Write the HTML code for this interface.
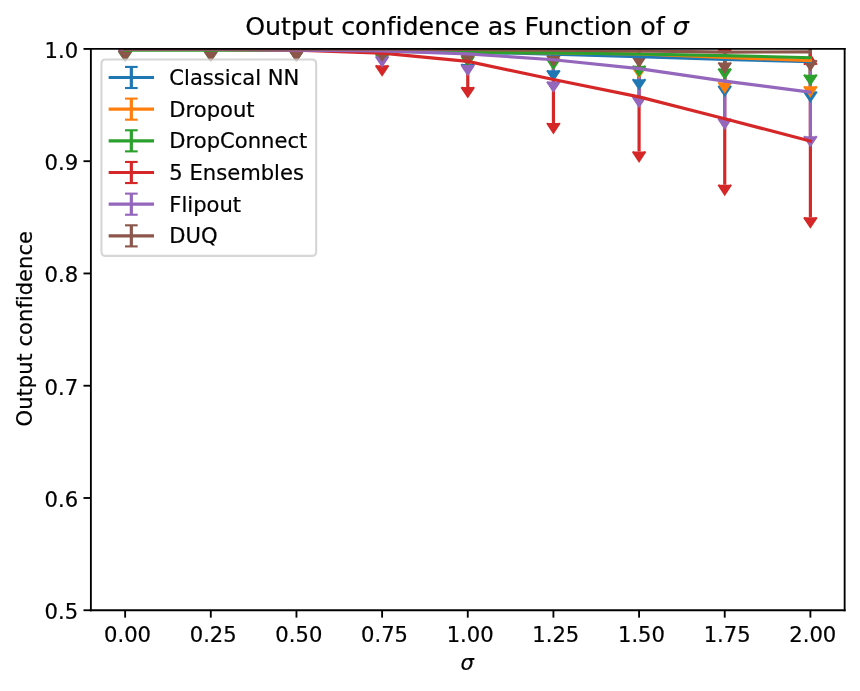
<!DOCTYPE html>
<html lang="en">
<head>
<meta charset="utf-8">
<title>Output confidence as Function of sigma</title>
<style>
html, body { margin: 0; padding: 0; background: #ffffff; }
body { width: 860px; height: 691px; overflow: hidden; font-family: "DejaVu Sans", "Liberation Sans", sans-serif; }
svg { display: block; }
svg text { stroke: #000000; stroke-width: 0.1px; stroke-linejoin: round; font-variant-ligatures: none; font-feature-settings: "liga" 0, "clig" 0; }
</style>
</head>
<body>
<svg width="860" height="691" viewBox="0 0 860 691">
<rect x="0" y="0" width="860" height="691" fill="#ffffff"/>
<g transform="translate(-1.529 1.85) scale(2.11069 2.10934)">

 <defs>
  <style type="text/css">*{stroke-linejoin: round; stroke-linecap: butt}</style>
 </defs>
 <g id="figure_1">
  <g id="patch_1">
   <path d="M 0 325.98825 L 408.10125 325.98825 L 408.10125 0 L 0 0 z" style="fill: #ffffff"/>
  </g>
  <g id="axes_1">
   <g id="patch_2">
    <path d="M 43.78125 288.432 L 400.90125 288.432 L 400.90125 22.32 L 43.78125 22.32 z" style="fill: #ffffff"/>
   </g>
   <g id="matplotlib.axis_1">
    <g id="xtick_1">
     <g id="line2d_1">
      <g>
       <path d="M 0 0 L 0 3.5" transform="translate(60.013977 288.432)" style="stroke: #000000; stroke-width: 0.88"/>
      </g>
     </g>
     <g id="text_1">
      <text style="font-size: 10px; font-family: 'DejaVu Sans', 'Liberation Sans', sans-serif; text-anchor: middle" x="61.1510" y="303.6942">0.00</text>
     </g>
    </g>
    <g id="xtick_2">
     <g id="line2d_2">
      <g>
       <path d="M 0 0 L 0 3.5" transform="translate(100.595795 288.432)" style="stroke: #000000; stroke-width: 0.88"/>
      </g>
     </g>
     <g id="text_2">
      <text style="font-size: 10px; font-family: 'DejaVu Sans', 'Liberation Sans', sans-serif; text-anchor: middle" x="101.7329" y="303.6942">0.25</text>
     </g>
    </g>
    <g id="xtick_3">
     <g id="line2d_3">
      <g>
       <path d="M 0 0 L 0 3.5" transform="translate(141.177614 288.432)" style="stroke: #000000; stroke-width: 0.88"/>
      </g>
     </g>
     <g id="text_3">
      <text style="font-size: 10px; font-family: 'DejaVu Sans', 'Liberation Sans', sans-serif; text-anchor: middle" x="142.3147" y="303.6942">0.50</text>
     </g>
    </g>
    <g id="xtick_4">
     <g id="line2d_4">
      <g>
       <path d="M 0 0 L 0 3.5" transform="translate(181.759432 288.432)" style="stroke: #000000; stroke-width: 0.88"/>
      </g>
     </g>
     <g id="text_4">
      <text style="font-size: 10px; font-family: 'DejaVu Sans', 'Liberation Sans', sans-serif; text-anchor: middle" x="182.8965" y="303.6942">0.75</text>
     </g>
    </g>
    <g id="xtick_5">
     <g id="line2d_5">
      <g>
       <path d="M 0 0 L 0 3.5" transform="translate(222.34125 288.432)" style="stroke: #000000; stroke-width: 0.88"/>
      </g>
     </g>
     <g id="text_5">
      <text style="font-size: 10px; font-family: 'DejaVu Sans', 'Liberation Sans', sans-serif; text-anchor: middle" x="223.4783" y="303.6942">1.00</text>
     </g>
    </g>
    <g id="xtick_6">
     <g id="line2d_6">
      <g>
       <path d="M 0 0 L 0 3.5" transform="translate(262.923068 288.432)" style="stroke: #000000; stroke-width: 0.88"/>
      </g>
     </g>
     <g id="text_6">
      <text style="font-size: 10px; font-family: 'DejaVu Sans', 'Liberation Sans', sans-serif; text-anchor: middle" x="264.0601" y="303.6942">1.25</text>
     </g>
    </g>
    <g id="xtick_7">
     <g id="line2d_7">
      <g>
       <path d="M 0 0 L 0 3.5" transform="translate(303.504886 288.432)" style="stroke: #000000; stroke-width: 0.88"/>
      </g>
     </g>
     <g id="text_7">
      <text style="font-size: 10px; font-family: 'DejaVu Sans', 'Liberation Sans', sans-serif; text-anchor: middle" x="304.6420" y="303.6942">1.50</text>
     </g>
    </g>
    <g id="xtick_8">
     <g id="line2d_8">
      <g>
       <path d="M 0 0 L 0 3.5" transform="translate(344.086705 288.432)" style="stroke: #000000; stroke-width: 0.88"/>
      </g>
     </g>
     <g id="text_8">
      <text style="font-size: 10px; font-family: 'DejaVu Sans', 'Liberation Sans', sans-serif; text-anchor: middle" x="345.2238" y="303.6942">1.75</text>
     </g>
    </g>
    <g id="xtick_9">
     <g id="line2d_9">
      <g>
       <path d="M 0 0 L 0 3.5" transform="translate(384.668523 288.432)" style="stroke: #000000; stroke-width: 0.88"/>
      </g>
     </g>
     <g id="text_9">
      <text style="font-size: 10px; font-family: 'DejaVu Sans', 'Liberation Sans', sans-serif; text-anchor: middle" x="385.8056" y="303.6942">2.00</text>
     </g>
    </g>
    <g id="text_10">
     <g transform="translate(218.8570 317.5145)">
      <text>
       <tspan x="0" y="-0.53125" style="font-style: oblique; font-size: 10px; font-family: 'DejaVu Sans', 'Liberation Sans', sans-serif">σ</tspan>
      </text>
     </g>
    </g>
   </g>
   <g id="matplotlib.axis_2">
    <g id="ytick_1">
     <g id="line2d_10">
      <g>
       <path d="M 0 0 L -3.5 0" transform="translate(43.78125 288.432)" style="stroke: #000000; stroke-width: 0.88"/>
      </g>
     </g>
     <g id="text_11">
      <text style="font-size: 10px; font-family: 'DejaVu Sans', 'Liberation Sans', sans-serif; text-anchor: end" x="37.7288" y="292.6105">0.5</text>
     </g>
    </g>
    <g id="ytick_2">
     <g id="line2d_11">
      <g>
       <path d="M 0 0 L -3.5 0" transform="translate(43.78125 235.2096)" style="stroke: #000000; stroke-width: 0.88"/>
      </g>
     </g>
     <g id="text_12">
      <text style="font-size: 10px; font-family: 'DejaVu Sans', 'Liberation Sans', sans-serif; text-anchor: end" x="37.7288" y="239.3881">0.6</text>
     </g>
    </g>
    <g id="ytick_3">
     <g id="line2d_12">
      <g>
       <path d="M 0 0 L -3.5 0" transform="translate(43.78125 181.9872)" style="stroke: #000000; stroke-width: 0.88"/>
      </g>
     </g>
     <g id="text_13">
      <text style="font-size: 10px; font-family: 'DejaVu Sans', 'Liberation Sans', sans-serif; text-anchor: end" x="37.7288" y="186.1657">0.7</text>
     </g>
    </g>
    <g id="ytick_4">
     <g id="line2d_13">
      <g>
       <path d="M 0 0 L -3.5 0" transform="translate(43.78125 128.7648)" style="stroke: #000000; stroke-width: 0.88"/>
      </g>
     </g>
     <g id="text_14">
      <text style="font-size: 10px; font-family: 'DejaVu Sans', 'Liberation Sans', sans-serif; text-anchor: end" x="37.7288" y="132.9433">0.8</text>
     </g>
    </g>
    <g id="ytick_5">
     <g id="line2d_14">
      <g>
       <path d="M 0 0 L -3.5 0" transform="translate(43.78125 75.5424)" style="stroke: #000000; stroke-width: 0.88"/>
      </g>
     </g>
     <g id="text_15">
      <text style="font-size: 10px; font-family: 'DejaVu Sans', 'Liberation Sans', sans-serif; text-anchor: end" x="37.7288" y="79.7209">0.9</text>
     </g>
    </g>
    <g id="ytick_6">
     <g id="line2d_15">
      <g>
       <path d="M 0 0 L -3.5 0" transform="translate(43.78125 22.32)" style="stroke: #000000; stroke-width: 0.88"/>
      </g>
     </g>
     <g id="text_16">
      <text style="font-size: 10px; font-family: 'DejaVu Sans', 'Liberation Sans', sans-serif; text-anchor: end" x="37.7288" y="26.4985">1.0</text>
     </g>
    </g>
    <g id="text_17">
     <text style="font-size: 10px; font-family: 'DejaVu Sans', 'Liberation Sans', sans-serif; text-anchor: middle" x="15.7460" y="154.9730" transform="rotate(-90 15.7460 154.9730)">Output confidence</text>
    </g>
   </g>
   <g id="LineCollection_1">
    <path d="M 60.013977 22.852224 L 60.013977 22.213555" clip-path="url(#pebf8cb1cc1)" style="fill: none; stroke: #1f77b4; stroke-width: 1.5"/>
    <path d="M 100.595795 22.852224 L 100.595795 22.32" clip-path="url(#pebf8cb1cc1)" style="fill: none; stroke: #1f77b4; stroke-width: 1.5"/>
    <path d="M 141.177614 22.958669 L 141.177614 22.426445" clip-path="url(#pebf8cb1cc1)" style="fill: none; stroke: #1f77b4; stroke-width: 1.5"/>
    <path d="M 181.759432 23.916672 L 181.759432 22.32" clip-path="url(#pebf8cb1cc1)" style="fill: none; stroke: #1f77b4; stroke-width: 1.5"/>
    <path d="M 222.34125 29.451802 L 222.34125 18.168653" clip-path="url(#pebf8cb1cc1)" style="fill: none; stroke: #1f77b4; stroke-width: 1.5"/>
    <path d="M 262.923068 32.485478 L 262.923068 17.050982" clip-path="url(#pebf8cb1cc1)" style="fill: none; stroke: #1f77b4; stroke-width: 1.5"/>
    <path d="M 303.504886 36.636826 L 303.504886 15.347866" clip-path="url(#pebf8cb1cc1)" style="fill: none; stroke: #1f77b4; stroke-width: 1.5"/>
    <path d="M 344.086705 39.83017 L 344.086705 14.709197" clip-path="url(#pebf8cb1cc1)" style="fill: none; stroke: #1f77b4; stroke-width: 1.5"/>
    <path d="M 384.668523 42.544512 L 384.668523 14.12375" clip-path="url(#pebf8cb1cc1)" style="fill: none; stroke: #1f77b4; stroke-width: 1.5"/>
   </g>
   <g id="LineCollection_2">
    <path d="M 60.013977 22.852224 L 60.013977 22.213555" clip-path="url(#pebf8cb1cc1)" style="fill: none; stroke: #ff7f0e; stroke-width: 1.5"/>
    <path d="M 100.595795 22.852224 L 100.595795 22.32" clip-path="url(#pebf8cb1cc1)" style="fill: none; stroke: #ff7f0e; stroke-width: 1.5"/>
    <path d="M 141.177614 22.958669 L 141.177614 22.426445" clip-path="url(#pebf8cb1cc1)" style="fill: none; stroke: #ff7f0e; stroke-width: 1.5"/>
    <path d="M 181.759432 23.65056 L 181.759432 22.479667" clip-path="url(#pebf8cb1cc1)" style="fill: none; stroke: #ff7f0e; stroke-width: 1.5"/>
    <path d="M 222.34125 25.247232 L 222.34125 22.160333" clip-path="url(#pebf8cb1cc1)" style="fill: none; stroke: #ff7f0e; stroke-width: 1.5"/>
    <path d="M 262.923068 26.790682 L 262.923068 21.574886" clip-path="url(#pebf8cb1cc1)" style="fill: none; stroke: #ff7f0e; stroke-width: 1.5"/>
    <path d="M 303.504886 31.048474 L 303.504886 18.381542" clip-path="url(#pebf8cb1cc1)" style="fill: none; stroke: #ff7f0e; stroke-width: 1.5"/>
    <path d="M 344.086705 38.127053 L 344.086705 14.496307" clip-path="url(#pebf8cb1cc1)" style="fill: none; stroke: #ff7f0e; stroke-width: 1.5"/>
    <path d="M 384.668523 40.043059 L 384.668523 15.6672" clip-path="url(#pebf8cb1cc1)" style="fill: none; stroke: #ff7f0e; stroke-width: 1.5"/>
   </g>
   <g id="LineCollection_3">
    <path d="M 60.013977 23.384448 L 60.013977 22.32" clip-path="url(#pebf8cb1cc1)" style="fill: none; stroke: #2ca02c; stroke-width: 1.5"/>
    <path d="M 100.595795 23.384448 L 100.595795 22.32" clip-path="url(#pebf8cb1cc1)" style="fill: none; stroke: #2ca02c; stroke-width: 1.5"/>
    <path d="M 141.177614 23.384448 L 141.177614 22.53289" clip-path="url(#pebf8cb1cc1)" style="fill: none; stroke: #2ca02c; stroke-width: 1.5"/>
    <path d="M 181.759432 24.821453 L 181.759432 21.947443" clip-path="url(#pebf8cb1cc1)" style="fill: none; stroke: #2ca02c; stroke-width: 1.5"/>
    <path d="M 222.34125 25.779456 L 222.34125 22.373222" clip-path="url(#pebf8cb1cc1)" style="fill: none; stroke: #2ca02c; stroke-width: 1.5"/>
    <path d="M 262.923068 27.110016 L 262.923068 21.255552" clip-path="url(#pebf8cb1cc1)" style="fill: none; stroke: #2ca02c; stroke-width: 1.5"/>
    <path d="M 303.504886 30.30336 L 303.504886 19.126656" clip-path="url(#pebf8cb1cc1)" style="fill: none; stroke: #2ca02c; stroke-width: 1.5"/>
    <path d="M 344.086705 31.63392 L 344.086705 19.286323" clip-path="url(#pebf8cb1cc1)" style="fill: none; stroke: #2ca02c; stroke-width: 1.5"/>
    <path d="M 384.668523 34.50793 L 384.668523 18.434765" clip-path="url(#pebf8cb1cc1)" style="fill: none; stroke: #2ca02c; stroke-width: 1.5"/>
   </g>
   <g id="LineCollection_4">
    <path d="M 60.013977 22.586112 L 60.013977 22.266778" clip-path="url(#pebf8cb1cc1)" style="fill: none; stroke: #d62728; stroke-width: 1.5"/>
    <path d="M 100.595795 22.745779 L 100.595795 22.32" clip-path="url(#pebf8cb1cc1)" style="fill: none; stroke: #d62728; stroke-width: 1.5"/>
    <path d="M 141.177614 23.118336 L 141.177614 22.586112" clip-path="url(#pebf8cb1cc1)" style="fill: none; stroke: #d62728; stroke-width: 1.5"/>
    <path d="M 181.759432 30.09047 L 181.759432 18.594432" clip-path="url(#pebf8cb1cc1)" style="fill: none; stroke: #d62728; stroke-width: 1.5"/>
    <path d="M 222.34125 40.415616 L 222.34125 16.039757" clip-path="url(#pebf8cb1cc1)" style="fill: none; stroke: #d62728; stroke-width: 1.5"/>
    <path d="M 262.923068 57.446784 L 262.923068 16.146202" clip-path="url(#pebf8cb1cc1)" style="fill: none; stroke: #d62728; stroke-width: 1.5"/>
    <path d="M 303.504886 70.965274 L 303.504886 19.126656" clip-path="url(#pebf8cb1cc1)" style="fill: none; stroke: #d62728; stroke-width: 1.5"/>
    <path d="M 344.086705 86.719104 L 344.086705 23.278003" clip-path="url(#pebf8cb1cc1)" style="fill: none; stroke: #d62728; stroke-width: 1.5"/>
    <path d="M 384.668523 102.1536 L 384.668523 29.824358" clip-path="url(#pebf8cb1cc1)" style="fill: none; stroke: #d62728; stroke-width: 1.5"/>
   </g>
   <g id="LineCollection_5">
    <path d="M 60.013977 22.745779 L 60.013977 22.213555" clip-path="url(#pebf8cb1cc1)" style="fill: none; stroke: #9467bd; stroke-width: 1.5"/>
    <path d="M 100.595795 22.852224 L 100.595795 22.32" clip-path="url(#pebf8cb1cc1)" style="fill: none; stroke: #9467bd; stroke-width: 1.5"/>
    <path d="M 141.177614 23.118336 L 141.177614 22.586112" clip-path="url(#pebf8cb1cc1)" style="fill: none; stroke: #9467bd; stroke-width: 1.5"/>
    <path d="M 181.759432 25.885901 L 181.759432 20.670106" clip-path="url(#pebf8cb1cc1)" style="fill: none; stroke: #9467bd; stroke-width: 1.5"/>
    <path d="M 222.34125 29.930803 L 222.34125 19.392768" clip-path="url(#pebf8cb1cc1)" style="fill: none; stroke: #9467bd; stroke-width: 1.5"/>
    <path d="M 262.923068 37.807718 L 262.923068 17.050982" clip-path="url(#pebf8cb1cc1)" style="fill: none; stroke: #9467bd; stroke-width: 1.5"/>
    <path d="M 303.504886 45.099187 L 303.504886 18.168653" clip-path="url(#pebf8cb1cc1)" style="fill: none; stroke: #9467bd; stroke-width: 1.5"/>
    <path d="M 344.086705 55.37111 L 344.086705 19.818547" clip-path="url(#pebf8cb1cc1)" style="fill: none; stroke: #9467bd; stroke-width: 1.5"/>
    <path d="M 384.668523 63.673805 L 384.668523 21.947443" clip-path="url(#pebf8cb1cc1)" style="fill: none; stroke: #9467bd; stroke-width: 1.5"/>
   </g>
   <g id="LineCollection_6">
    <path d="M 60.013977 23.118336 L 60.013977 21.734554" clip-path="url(#pebf8cb1cc1)" style="fill: none; stroke: #8c564b; stroke-width: 1.5"/>
    <path d="M 100.595795 23.278003 L 100.595795 21.574886" clip-path="url(#pebf8cb1cc1)" style="fill: none; stroke: #8c564b; stroke-width: 1.5"/>
    <path d="M 141.177614 23.278003 L 141.177614 21.574886" clip-path="url(#pebf8cb1cc1)" style="fill: none; stroke: #8c564b; stroke-width: 1.5"/>
    <path d="M 181.759432 23.118336 L 181.759432 21.840998" clip-path="url(#pebf8cb1cc1)" style="fill: none; stroke: #8c564b; stroke-width: 1.5"/>
    <path d="M 222.34125 24.715008 L 222.34125 20.457216" clip-path="url(#pebf8cb1cc1)" style="fill: none; stroke: #8c564b; stroke-width: 1.5"/>
    <path d="M 262.923068 25.353677 L 262.923068 20.563661" clip-path="url(#pebf8cb1cc1)" style="fill: none; stroke: #8c564b; stroke-width: 1.5"/>
    <path d="M 303.504886 26.045568 L 303.504886 20.403994" clip-path="url(#pebf8cb1cc1)" style="fill: none; stroke: #8c564b; stroke-width: 1.5"/>
    <path d="M 344.086705 28.75991 L 344.086705 18.966989" clip-path="url(#pebf8cb1cc1)" style="fill: none; stroke: #8c564b; stroke-width: 1.5"/>
    <path d="M 384.668523 27.695462 L 384.668523 19.712102" clip-path="url(#pebf8cb1cc1)" style="fill: none; stroke: #8c564b; stroke-width: 1.5"/>
   </g>
   <g id="line2d_16">
    <g clip-path="url(#pebf8cb1cc1)">
     <path d="M 3 0 L 0 -4.5 L -3 -0" transform="translate(60.013977 22.213555)" style="fill: #1f77b4; stroke: #1f77b4; stroke-linejoin: miter"/>
     <path d="M 3 0 L 0 -4.5 L -3 -0" transform="translate(100.595795 22.32)" style="fill: #1f77b4; stroke: #1f77b4; stroke-linejoin: miter"/>
     <path d="M 3 0 L 0 -4.5 L -3 -0" transform="translate(141.177614 22.426445)" style="fill: #1f77b4; stroke: #1f77b4; stroke-linejoin: miter"/>
     <path d="M 3 0 L 0 -4.5 L -3 -0" transform="translate(181.759432 22.32)" style="fill: #1f77b4; stroke: #1f77b4; stroke-linejoin: miter"/>
     <path d="M 3 0 L 0 -4.5 L -3 -0" transform="translate(222.34125 18.168653)" style="fill: #1f77b4; stroke: #1f77b4; stroke-linejoin: miter"/>
     <path d="M 3 0 L 0 -4.5 L -3 -0" transform="translate(262.923068 17.050982)" style="fill: #1f77b4; stroke: #1f77b4; stroke-linejoin: miter"/>
     <path d="M 3 0 L 0 -4.5 L -3 -0" transform="translate(303.504886 15.347866)" style="fill: #1f77b4; stroke: #1f77b4; stroke-linejoin: miter"/>
     <path d="M 3 0 L 0 -4.5 L -3 -0" transform="translate(344.086705 14.709197)" style="fill: #1f77b4; stroke: #1f77b4; stroke-linejoin: miter"/>
     <path d="M 3 0 L 0 -4.5 L -3 -0" transform="translate(384.668523 14.12375)" style="fill: #1f77b4; stroke: #1f77b4; stroke-linejoin: miter"/>
    </g>
   </g>
   <g id="line2d_17">
    <g clip-path="url(#pebf8cb1cc1)">
     <path d="M -3 0 L 0 4.5 L 3 0" transform="translate(60.013977 22.852224)" style="fill: #1f77b4; stroke: #1f77b4; stroke-linejoin: miter"/>
     <path d="M -3 0 L 0 4.5 L 3 0" transform="translate(100.595795 22.852224)" style="fill: #1f77b4; stroke: #1f77b4; stroke-linejoin: miter"/>
     <path d="M -3 0 L 0 4.5 L 3 0" transform="translate(141.177614 22.958669)" style="fill: #1f77b4; stroke: #1f77b4; stroke-linejoin: miter"/>
     <path d="M -3 0 L 0 4.5 L 3 0" transform="translate(181.759432 23.916672)" style="fill: #1f77b4; stroke: #1f77b4; stroke-linejoin: miter"/>
     <path d="M -3 0 L 0 4.5 L 3 0" transform="translate(222.34125 29.451802)" style="fill: #1f77b4; stroke: #1f77b4; stroke-linejoin: miter"/>
     <path d="M -3 0 L 0 4.5 L 3 0" transform="translate(262.923068 32.485478)" style="fill: #1f77b4; stroke: #1f77b4; stroke-linejoin: miter"/>
     <path d="M -3 0 L 0 4.5 L 3 0" transform="translate(303.504886 36.636826)" style="fill: #1f77b4; stroke: #1f77b4; stroke-linejoin: miter"/>
     <path d="M -3 0 L 0 4.5 L 3 0" transform="translate(344.086705 39.83017)" style="fill: #1f77b4; stroke: #1f77b4; stroke-linejoin: miter"/>
     <path d="M -3 0 L 0 4.5 L 3 0" transform="translate(384.668523 42.544512)" style="fill: #1f77b4; stroke: #1f77b4; stroke-linejoin: miter"/>
    </g>
   </g>
   <g id="line2d_18">
    <g clip-path="url(#pebf8cb1cc1)">
     <path d="M 3 0 L 0 -4.5 L -3 -0" transform="translate(60.013977 22.213555)" style="fill: #ff7f0e; stroke: #ff7f0e; stroke-linejoin: miter"/>
     <path d="M 3 0 L 0 -4.5 L -3 -0" transform="translate(100.595795 22.32)" style="fill: #ff7f0e; stroke: #ff7f0e; stroke-linejoin: miter"/>
     <path d="M 3 0 L 0 -4.5 L -3 -0" transform="translate(141.177614 22.426445)" style="fill: #ff7f0e; stroke: #ff7f0e; stroke-linejoin: miter"/>
     <path d="M 3 0 L 0 -4.5 L -3 -0" transform="translate(181.759432 22.479667)" style="fill: #ff7f0e; stroke: #ff7f0e; stroke-linejoin: miter"/>
     <path d="M 3 0 L 0 -4.5 L -3 -0" transform="translate(222.34125 22.160333)" style="fill: #ff7f0e; stroke: #ff7f0e; stroke-linejoin: miter"/>
     <path d="M 3 0 L 0 -4.5 L -3 -0" transform="translate(262.923068 21.574886)" style="fill: #ff7f0e; stroke: #ff7f0e; stroke-linejoin: miter"/>
     <path d="M 3 0 L 0 -4.5 L -3 -0" transform="translate(303.504886 18.381542)" style="fill: #ff7f0e; stroke: #ff7f0e; stroke-linejoin: miter"/>
     <path d="M 3 0 L 0 -4.5 L -3 -0" transform="translate(344.086705 14.496307)" style="fill: #ff7f0e; stroke: #ff7f0e; stroke-linejoin: miter"/>
     <path d="M 3 0 L 0 -4.5 L -3 -0" transform="translate(384.668523 15.6672)" style="fill: #ff7f0e; stroke: #ff7f0e; stroke-linejoin: miter"/>
    </g>
   </g>
   <g id="line2d_19">
    <g clip-path="url(#pebf8cb1cc1)">
     <path d="M -3 0 L 0 4.5 L 3 0" transform="translate(60.013977 22.852224)" style="fill: #ff7f0e; stroke: #ff7f0e; stroke-linejoin: miter"/>
     <path d="M -3 0 L 0 4.5 L 3 0" transform="translate(100.595795 22.852224)" style="fill: #ff7f0e; stroke: #ff7f0e; stroke-linejoin: miter"/>
     <path d="M -3 0 L 0 4.5 L 3 0" transform="translate(141.177614 22.958669)" style="fill: #ff7f0e; stroke: #ff7f0e; stroke-linejoin: miter"/>
     <path d="M -3 0 L 0 4.5 L 3 0" transform="translate(181.759432 23.65056)" style="fill: #ff7f0e; stroke: #ff7f0e; stroke-linejoin: miter"/>
     <path d="M -3 0 L 0 4.5 L 3 0" transform="translate(222.34125 25.247232)" style="fill: #ff7f0e; stroke: #ff7f0e; stroke-linejoin: miter"/>
     <path d="M -3 0 L 0 4.5 L 3 0" transform="translate(262.923068 26.790682)" style="fill: #ff7f0e; stroke: #ff7f0e; stroke-linejoin: miter"/>
     <path d="M -3 0 L 0 4.5 L 3 0" transform="translate(303.504886 31.048474)" style="fill: #ff7f0e; stroke: #ff7f0e; stroke-linejoin: miter"/>
     <path d="M -3 0 L 0 4.5 L 3 0" transform="translate(344.086705 38.127053)" style="fill: #ff7f0e; stroke: #ff7f0e; stroke-linejoin: miter"/>
     <path d="M -3 0 L 0 4.5 L 3 0" transform="translate(384.668523 40.043059)" style="fill: #ff7f0e; stroke: #ff7f0e; stroke-linejoin: miter"/>
    </g>
   </g>
   <g id="line2d_20">
    <g clip-path="url(#pebf8cb1cc1)">
     <path d="M 3 0 L 0 -4.5 L -3 -0" transform="translate(60.013977 22.32)" style="fill: #2ca02c; stroke: #2ca02c; stroke-linejoin: miter"/>
     <path d="M 3 0 L 0 -4.5 L -3 -0" transform="translate(100.595795 22.32)" style="fill: #2ca02c; stroke: #2ca02c; stroke-linejoin: miter"/>
     <path d="M 3 0 L 0 -4.5 L -3 -0" transform="translate(141.177614 22.53289)" style="fill: #2ca02c; stroke: #2ca02c; stroke-linejoin: miter"/>
     <path d="M 3 0 L 0 -4.5 L -3 -0" transform="translate(181.759432 21.947443)" style="fill: #2ca02c; stroke: #2ca02c; stroke-linejoin: miter"/>
     <path d="M 3 0 L 0 -4.5 L -3 -0" transform="translate(222.34125 22.373222)" style="fill: #2ca02c; stroke: #2ca02c; stroke-linejoin: miter"/>
     <path d="M 3 0 L 0 -4.5 L -3 -0" transform="translate(262.923068 21.255552)" style="fill: #2ca02c; stroke: #2ca02c; stroke-linejoin: miter"/>
     <path d="M 3 0 L 0 -4.5 L -3 -0" transform="translate(303.504886 19.126656)" style="fill: #2ca02c; stroke: #2ca02c; stroke-linejoin: miter"/>
     <path d="M 3 0 L 0 -4.5 L -3 -0" transform="translate(344.086705 19.286323)" style="fill: #2ca02c; stroke: #2ca02c; stroke-linejoin: miter"/>
     <path d="M 3 0 L 0 -4.5 L -3 -0" transform="translate(384.668523 18.434765)" style="fill: #2ca02c; stroke: #2ca02c; stroke-linejoin: miter"/>
    </g>
   </g>
   <g id="line2d_21">
    <g clip-path="url(#pebf8cb1cc1)">
     <path d="M -3 0 L 0 4.5 L 3 0" transform="translate(60.013977 23.384448)" style="fill: #2ca02c; stroke: #2ca02c; stroke-linejoin: miter"/>
     <path d="M -3 0 L 0 4.5 L 3 0" transform="translate(100.595795 23.384448)" style="fill: #2ca02c; stroke: #2ca02c; stroke-linejoin: miter"/>
     <path d="M -3 0 L 0 4.5 L 3 0" transform="translate(141.177614 23.384448)" style="fill: #2ca02c; stroke: #2ca02c; stroke-linejoin: miter"/>
     <path d="M -3 0 L 0 4.5 L 3 0" transform="translate(181.759432 24.821453)" style="fill: #2ca02c; stroke: #2ca02c; stroke-linejoin: miter"/>
     <path d="M -3 0 L 0 4.5 L 3 0" transform="translate(222.34125 25.779456)" style="fill: #2ca02c; stroke: #2ca02c; stroke-linejoin: miter"/>
     <path d="M -3 0 L 0 4.5 L 3 0" transform="translate(262.923068 27.110016)" style="fill: #2ca02c; stroke: #2ca02c; stroke-linejoin: miter"/>
     <path d="M -3 0 L 0 4.5 L 3 0" transform="translate(303.504886 30.30336)" style="fill: #2ca02c; stroke: #2ca02c; stroke-linejoin: miter"/>
     <path d="M -3 0 L 0 4.5 L 3 0" transform="translate(344.086705 31.63392)" style="fill: #2ca02c; stroke: #2ca02c; stroke-linejoin: miter"/>
     <path d="M -3 0 L 0 4.5 L 3 0" transform="translate(384.668523 34.50793)" style="fill: #2ca02c; stroke: #2ca02c; stroke-linejoin: miter"/>
    </g>
   </g>
   <g id="line2d_22">
    <g clip-path="url(#pebf8cb1cc1)">
     <path d="M 3 0 L 0 -4.5 L -3 -0" transform="translate(60.013977 22.266778)" style="fill: #d62728; stroke: #d62728; stroke-linejoin: miter"/>
     <path d="M 3 0 L 0 -4.5 L -3 -0" transform="translate(100.595795 22.32)" style="fill: #d62728; stroke: #d62728; stroke-linejoin: miter"/>
     <path d="M 3 0 L 0 -4.5 L -3 -0" transform="translate(141.177614 22.586112)" style="fill: #d62728; stroke: #d62728; stroke-linejoin: miter"/>
     <path d="M 3 0 L 0 -4.5 L -3 -0" transform="translate(181.759432 18.594432)" style="fill: #d62728; stroke: #d62728; stroke-linejoin: miter"/>
     <path d="M 3 0 L 0 -4.5 L -3 -0" transform="translate(222.34125 16.039757)" style="fill: #d62728; stroke: #d62728; stroke-linejoin: miter"/>
     <path d="M 3 0 L 0 -4.5 L -3 -0" transform="translate(262.923068 16.146202)" style="fill: #d62728; stroke: #d62728; stroke-linejoin: miter"/>
     <path d="M 3 0 L 0 -4.5 L -3 -0" transform="translate(303.504886 19.126656)" style="fill: #d62728; stroke: #d62728; stroke-linejoin: miter"/>
     <path d="M 3 0 L 0 -4.5 L -3 -0" transform="translate(344.086705 23.278003)" style="fill: #d62728; stroke: #d62728; stroke-linejoin: miter"/>
     <path d="M 3 0 L 0 -4.5 L -3 -0" transform="translate(384.668523 29.824358)" style="fill: #d62728; stroke: #d62728; stroke-linejoin: miter"/>
    </g>
   </g>
   <g id="line2d_23">
    <g clip-path="url(#pebf8cb1cc1)">
     <path d="M -3 0 L 0 4.5 L 3 0" transform="translate(60.013977 22.586112)" style="fill: #d62728; stroke: #d62728; stroke-linejoin: miter"/>
     <path d="M -3 0 L 0 4.5 L 3 0" transform="translate(100.595795 22.745779)" style="fill: #d62728; stroke: #d62728; stroke-linejoin: miter"/>
     <path d="M -3 0 L 0 4.5 L 3 0" transform="translate(141.177614 23.118336)" style="fill: #d62728; stroke: #d62728; stroke-linejoin: miter"/>
     <path d="M -3 0 L 0 4.5 L 3 0" transform="translate(181.759432 30.09047)" style="fill: #d62728; stroke: #d62728; stroke-linejoin: miter"/>
     <path d="M -3 0 L 0 4.5 L 3 0" transform="translate(222.34125 40.415616)" style="fill: #d62728; stroke: #d62728; stroke-linejoin: miter"/>
     <path d="M -3 0 L 0 4.5 L 3 0" transform="translate(262.923068 57.446784)" style="fill: #d62728; stroke: #d62728; stroke-linejoin: miter"/>
     <path d="M -3 0 L 0 4.5 L 3 0" transform="translate(303.504886 70.965274)" style="fill: #d62728; stroke: #d62728; stroke-linejoin: miter"/>
     <path d="M -3 0 L 0 4.5 L 3 0" transform="translate(344.086705 86.719104)" style="fill: #d62728; stroke: #d62728; stroke-linejoin: miter"/>
     <path d="M -3 0 L 0 4.5 L 3 0" transform="translate(384.668523 102.1536)" style="fill: #d62728; stroke: #d62728; stroke-linejoin: miter"/>
    </g>
   </g>
   <g id="line2d_24">
    <g clip-path="url(#pebf8cb1cc1)">
     <path d="M 3 0 L 0 -4.5 L -3 -0" transform="translate(60.013977 22.213555)" style="fill: #9467bd; stroke: #9467bd; stroke-linejoin: miter"/>
     <path d="M 3 0 L 0 -4.5 L -3 -0" transform="translate(100.595795 22.32)" style="fill: #9467bd; stroke: #9467bd; stroke-linejoin: miter"/>
     <path d="M 3 0 L 0 -4.5 L -3 -0" transform="translate(141.177614 22.586112)" style="fill: #9467bd; stroke: #9467bd; stroke-linejoin: miter"/>
     <path d="M 3 0 L 0 -4.5 L -3 -0" transform="translate(181.759432 20.670106)" style="fill: #9467bd; stroke: #9467bd; stroke-linejoin: miter"/>
     <path d="M 3 0 L 0 -4.5 L -3 -0" transform="translate(222.34125 19.392768)" style="fill: #9467bd; stroke: #9467bd; stroke-linejoin: miter"/>
     <path d="M 3 0 L 0 -4.5 L -3 -0" transform="translate(262.923068 17.050982)" style="fill: #9467bd; stroke: #9467bd; stroke-linejoin: miter"/>
     <path d="M 3 0 L 0 -4.5 L -3 -0" transform="translate(303.504886 18.168653)" style="fill: #9467bd; stroke: #9467bd; stroke-linejoin: miter"/>
     <path d="M 3 0 L 0 -4.5 L -3 -0" transform="translate(344.086705 19.818547)" style="fill: #9467bd; stroke: #9467bd; stroke-linejoin: miter"/>
     <path d="M 3 0 L 0 -4.5 L -3 -0" transform="translate(384.668523 21.947443)" style="fill: #9467bd; stroke: #9467bd; stroke-linejoin: miter"/>
    </g>
   </g>
   <g id="line2d_25">
    <g clip-path="url(#pebf8cb1cc1)">
     <path d="M -3 0 L 0 4.5 L 3 0" transform="translate(60.013977 22.745779)" style="fill: #9467bd; stroke: #9467bd; stroke-linejoin: miter"/>
     <path d="M -3 0 L 0 4.5 L 3 0" transform="translate(100.595795 22.852224)" style="fill: #9467bd; stroke: #9467bd; stroke-linejoin: miter"/>
     <path d="M -3 0 L 0 4.5 L 3 0" transform="translate(141.177614 23.118336)" style="fill: #9467bd; stroke: #9467bd; stroke-linejoin: miter"/>
     <path d="M -3 0 L 0 4.5 L 3 0" transform="translate(181.759432 25.885901)" style="fill: #9467bd; stroke: #9467bd; stroke-linejoin: miter"/>
     <path d="M -3 0 L 0 4.5 L 3 0" transform="translate(222.34125 29.930803)" style="fill: #9467bd; stroke: #9467bd; stroke-linejoin: miter"/>
     <path d="M -3 0 L 0 4.5 L 3 0" transform="translate(262.923068 37.807718)" style="fill: #9467bd; stroke: #9467bd; stroke-linejoin: miter"/>
     <path d="M -3 0 L 0 4.5 L 3 0" transform="translate(303.504886 45.099187)" style="fill: #9467bd; stroke: #9467bd; stroke-linejoin: miter"/>
     <path d="M -3 0 L 0 4.5 L 3 0" transform="translate(344.086705 55.37111)" style="fill: #9467bd; stroke: #9467bd; stroke-linejoin: miter"/>
     <path d="M -3 0 L 0 4.5 L 3 0" transform="translate(384.668523 63.673805)" style="fill: #9467bd; stroke: #9467bd; stroke-linejoin: miter"/>
    </g>
   </g>
   <g id="line2d_26">
    <g clip-path="url(#pebf8cb1cc1)">
     <path d="M 3 0 L 0 -4.5 L -3 -0" transform="translate(60.013977 21.734554)" style="fill: #8c564b; stroke: #8c564b; stroke-linejoin: miter"/>
     <path d="M 3 0 L 0 -4.5 L -3 -0" transform="translate(100.595795 21.574886)" style="fill: #8c564b; stroke: #8c564b; stroke-linejoin: miter"/>
     <path d="M 3 0 L 0 -4.5 L -3 -0" transform="translate(141.177614 21.574886)" style="fill: #8c564b; stroke: #8c564b; stroke-linejoin: miter"/>
     <path d="M 3 0 L 0 -4.5 L -3 -0" transform="translate(181.759432 21.840998)" style="fill: #8c564b; stroke: #8c564b; stroke-linejoin: miter"/>
     <path d="M 3 0 L 0 -4.5 L -3 -0" transform="translate(222.34125 20.457216)" style="fill: #8c564b; stroke: #8c564b; stroke-linejoin: miter"/>
     <path d="M 3 0 L 0 -4.5 L -3 -0" transform="translate(262.923068 20.563661)" style="fill: #8c564b; stroke: #8c564b; stroke-linejoin: miter"/>
     <path d="M 3 0 L 0 -4.5 L -3 -0" transform="translate(303.504886 20.403994)" style="fill: #8c564b; stroke: #8c564b; stroke-linejoin: miter"/>
     <path d="M 3 0 L 0 -4.5 L -3 -0" transform="translate(344.086705 18.966989)" style="fill: #8c564b; stroke: #8c564b; stroke-linejoin: miter"/>
     <path d="M 3 0 L 0 -4.5 L -3 -0" transform="translate(384.668523 19.712102)" style="fill: #8c564b; stroke: #8c564b; stroke-linejoin: miter"/>
    </g>
   </g>
   <g id="line2d_27">
    <g clip-path="url(#pebf8cb1cc1)">
     <path d="M -3 0 L 0 4.5 L 3 0" transform="translate(60.013977 23.118336)" style="fill: #8c564b; stroke: #8c564b; stroke-linejoin: miter"/>
     <path d="M -3 0 L 0 4.5 L 3 0" transform="translate(100.595795 23.278003)" style="fill: #8c564b; stroke: #8c564b; stroke-linejoin: miter"/>
     <path d="M -3 0 L 0 4.5 L 3 0" transform="translate(141.177614 23.278003)" style="fill: #8c564b; stroke: #8c564b; stroke-linejoin: miter"/>
     <path d="M -3 0 L 0 4.5 L 3 0" transform="translate(181.759432 23.118336)" style="fill: #8c564b; stroke: #8c564b; stroke-linejoin: miter"/>
     <path d="M -3 0 L 0 4.5 L 3 0" transform="translate(222.34125 24.715008)" style="fill: #8c564b; stroke: #8c564b; stroke-linejoin: miter"/>
     <path d="M -3 0 L 0 4.5 L 3 0" transform="translate(262.923068 25.353677)" style="fill: #8c564b; stroke: #8c564b; stroke-linejoin: miter"/>
     <path d="M -3 0 L 0 4.5 L 3 0" transform="translate(303.504886 26.045568)" style="fill: #8c564b; stroke: #8c564b; stroke-linejoin: miter"/>
     <path d="M -3 0 L 0 4.5 L 3 0" transform="translate(344.086705 28.75991)" style="fill: #8c564b; stroke: #8c564b; stroke-linejoin: miter"/>
     <path d="M -3 0 L 0 4.5 L 3 0" transform="translate(384.668523 27.695462)" style="fill: #8c564b; stroke: #8c564b; stroke-linejoin: miter"/>
    </g>
   </g>
   <g id="line2d_28">
    <path d="M 60.013977 22.53289 L 100.595795 22.586112 L 141.177614 22.692557 L 181.759432 23.118336 L 222.34125 23.810227 L 262.923068 24.76823 L 303.504886 25.992346 L 344.086705 27.269683 L 384.668523 28.334131" clip-path="url(#pebf8cb1cc1)" style="fill: none; stroke: #1f77b4; stroke-width: 1.5; stroke-linecap: square"/>
   </g>
   <g id="line2d_29">
    <path d="M 60.013977 22.53289 L 100.595795 22.586112 L 141.177614 22.692557 L 181.759432 23.065114 L 222.34125 23.703782 L 262.923068 24.182784 L 303.504886 24.715008 L 344.086705 26.31168 L 384.668523 27.85513" clip-path="url(#pebf8cb1cc1)" style="fill: none; stroke: #ff7f0e; stroke-width: 1.5; stroke-linecap: square"/>
   </g>
   <g id="line2d_30">
    <path d="M 60.013977 22.852224 L 100.595795 22.852224 L 141.177614 22.958669 L 181.759432 23.384448 L 222.34125 24.076339 L 262.923068 24.182784 L 303.504886 24.715008 L 344.086705 25.460122 L 384.668523 26.471347" clip-path="url(#pebf8cb1cc1)" style="fill: none; stroke: #2ca02c; stroke-width: 1.5; stroke-linecap: square"/>
   </g>
   <g id="line2d_31">
    <path d="M 60.013977 22.426445 L 100.595795 22.53289 L 141.177614 22.852224 L 181.759432 24.342451 L 222.34125 28.227686 L 262.923068 36.796493 L 303.504886 45.045965 L 344.086705 55.424333 L 384.668523 66.01559" clip-path="url(#pebf8cb1cc1)" style="fill: none; stroke: #d62728; stroke-width: 1.5; stroke-linecap: square"/>
   </g>
   <g id="line2d_32">
    <path d="M 60.013977 22.479667 L 100.595795 22.586112 L 141.177614 22.852224 L 181.759432 23.278003 L 222.34125 24.661786 L 262.923068 27.42935 L 303.504886 31.63392 L 344.086705 37.594829 L 384.668523 42.810624" clip-path="url(#pebf8cb1cc1)" style="fill: none; stroke: #9467bd; stroke-width: 1.5; stroke-linecap: square"/>
   </g>
   <g id="line2d_33">
    <path d="M 60.013977 22.426445 L 100.595795 22.426445 L 141.177614 22.426445 L 181.759432 22.479667 L 222.34125 22.586112 L 262.923068 22.958669 L 303.504886 23.224781 L 344.086705 23.86345 L 384.668523 23.703782" clip-path="url(#pebf8cb1cc1)" style="fill: none; stroke: #8c564b; stroke-width: 1.5; stroke-linecap: square"/>
   </g>
   <g id="patch_3">
    <path d="M 43.78125 288.432 L 43.78125 22.32" style="fill: none; stroke: #000000; stroke-width: 0.88; stroke-linejoin: miter; stroke-linecap: square"/>
   </g>
   <g id="patch_4">
    <path d="M 400.90125 288.432 L 400.90125 22.32" style="fill: none; stroke: #000000; stroke-width: 0.88; stroke-linejoin: miter; stroke-linecap: square"/>
   </g>
   <g id="patch_5">
    <path d="M 43.78125 288.432 L 400.90125 288.432" style="fill: none; stroke: #000000; stroke-width: 0.88; stroke-linejoin: miter; stroke-linecap: square"/>
   </g>
   <g id="patch_6">
    <path d="M 43.78125 22.32 L 400.90125 22.32" style="fill: none; stroke: #000000; stroke-width: 0.88; stroke-linejoin: miter; stroke-linecap: square"/>
   </g>
   <g id="text_18">
    <g transform="translate(116.8612 16.5570)">
     <text x="0" y="-0.875" style="font-size: 12px; font-family: 'DejaVu Sans', 'Liberation Sans', sans-serif">Output confidence as Function of <tspan style="font-style: oblique">σ</tspan></text>
    </g>
   </g>
   <g id="legend_1">
    <g id="patch_7">
     <path d="M 50.78125 120.42875 L 148.522813 120.42875 Q 150.522813 120.42875 150.522813 118.42875 L 150.522813 29.32 Q 150.522813 27.32 148.522813 27.32 L 50.78125 27.32 Q 48.78125 27.32 48.78125 29.32 L 48.78125 118.42875 Q 48.78125 120.42875 50.78125 120.42875 z" style="fill: #ffffff; opacity: 0.8; stroke: #cccccc; stroke-linejoin: miter"/>
    </g>
    <g id="LineCollection_7" transform="translate(0 0.2607)">
     <path d="M 62.95125 40.588437 L 62.95125 30.588437" style="fill: none; stroke: #1f77b4; stroke-width: 1.5"/>
    </g>
    <g id="line2d_34" transform="translate(0 0.2607)">
     <g>
      <path d="M 3 0 L -3 -0" transform="translate(62.95125 40.588437)" style="fill: #1f77b4; stroke: #1f77b4"/>
     </g>
    </g>
    <g id="line2d_35" transform="translate(0 0.2607)">
     <g>
      <path d="M 3 0 L -3 -0" transform="translate(62.95125 30.588437)" style="fill: #1f77b4; stroke: #1f77b4"/>
     </g>
    </g>
    <g id="line2d_36" transform="translate(0 0.2607)">
     <path d="M 52.95125 35.588437 L 72.95125 35.588437" style="fill: none; stroke: #1f77b4; stroke-width: 1.5; stroke-linecap: square"/>
    </g>
    <g id="line2d_37"/>
    <g id="text_19" transform="translate(0 0.2607)">
     <text style="font-size: 10px; font-family: 'DejaVu Sans', 'Liberation Sans', sans-serif; text-anchor: start" x="80.95125" y="39.088437">Classical NN</text>
    </g>
    <g id="LineCollection_8" transform="translate(0 0.2607)">
     <path d="M 62.95125 55.606562 L 62.95125 45.606562" style="fill: none; stroke: #ff7f0e; stroke-width: 1.5"/>
    </g>
    <g id="line2d_38" transform="translate(0 0.2607)">
     <g>
      <path d="M 3 0 L -3 -0" transform="translate(62.95125 55.606562)" style="fill: #ff7f0e; stroke: #ff7f0e"/>
     </g>
    </g>
    <g id="line2d_39" transform="translate(0 0.2607)">
     <g>
      <path d="M 3 0 L -3 -0" transform="translate(62.95125 45.606562)" style="fill: #ff7f0e; stroke: #ff7f0e"/>
     </g>
    </g>
    <g id="line2d_40" transform="translate(0 0.2607)">
     <path d="M 52.95125 50.606562 L 72.95125 50.606562" style="fill: none; stroke: #ff7f0e; stroke-width: 1.5; stroke-linecap: square"/>
    </g>
    <g id="line2d_41"/>
    <g id="text_20" transform="translate(0 0.2607)">
     <text style="font-size: 10px; font-family: 'DejaVu Sans', 'Liberation Sans', sans-serif; text-anchor: start" x="80.95125" y="54.106562">Dropout</text>
    </g>
    <g id="LineCollection_9" transform="translate(0 0.2607)">
     <path d="M 62.95125 70.624687 L 62.95125 60.624687" style="fill: none; stroke: #2ca02c; stroke-width: 1.5"/>
    </g>
    <g id="line2d_42" transform="translate(0 0.2607)">
     <g>
      <path d="M 3 0 L -3 -0" transform="translate(62.95125 70.624687)" style="fill: #2ca02c; stroke: #2ca02c"/>
     </g>
    </g>
    <g id="line2d_43" transform="translate(0 0.2607)">
     <g>
      <path d="M 3 0 L -3 -0" transform="translate(62.95125 60.624687)" style="fill: #2ca02c; stroke: #2ca02c"/>
     </g>
    </g>
    <g id="line2d_44" transform="translate(0 0.2607)">
     <path d="M 52.95125 65.624687 L 72.95125 65.624687" style="fill: none; stroke: #2ca02c; stroke-width: 1.5; stroke-linecap: square"/>
    </g>
    <g id="line2d_45"/>
    <g id="text_21" transform="translate(0 0.2607)">
     <text style="font-size: 10px; font-family: 'DejaVu Sans', 'Liberation Sans', sans-serif; text-anchor: start" x="80.95125" y="69.124687">DropConnect</text>
    </g>
    <g id="LineCollection_10" transform="translate(0 0.2607)">
     <path d="M 62.95125 85.642812 L 62.95125 75.642812" style="fill: none; stroke: #d62728; stroke-width: 1.5"/>
    </g>
    <g id="line2d_46" transform="translate(0 0.2607)">
     <g>
      <path d="M 3 0 L -3 -0" transform="translate(62.95125 85.642812)" style="fill: #d62728; stroke: #d62728"/>
     </g>
    </g>
    <g id="line2d_47" transform="translate(0 0.2607)">
     <g>
      <path d="M 3 0 L -3 -0" transform="translate(62.95125 75.642812)" style="fill: #d62728; stroke: #d62728"/>
     </g>
    </g>
    <g id="line2d_48" transform="translate(0 0.2607)">
     <path d="M 52.95125 80.642812 L 72.95125 80.642812" style="fill: none; stroke: #d62728; stroke-width: 1.5; stroke-linecap: square"/>
    </g>
    <g id="line2d_49"/>
    <g id="text_22" transform="translate(0 0.2607)">
     <text style="font-size: 10px; font-family: 'DejaVu Sans', 'Liberation Sans', sans-serif; text-anchor: start" x="80.95125" y="84.142812">5 Ensembles</text>
    </g>
    <g id="LineCollection_11" transform="translate(0 0.2607)">
     <path d="M 62.95125 100.660937 L 62.95125 90.660937" style="fill: none; stroke: #9467bd; stroke-width: 1.5"/>
    </g>
    <g id="line2d_50" transform="translate(0 0.2607)">
     <g>
      <path d="M 3 0 L -3 -0" transform="translate(62.95125 100.660937)" style="fill: #9467bd; stroke: #9467bd"/>
     </g>
    </g>
    <g id="line2d_51" transform="translate(0 0.2607)">
     <g>
      <path d="M 3 0 L -3 -0" transform="translate(62.95125 90.660937)" style="fill: #9467bd; stroke: #9467bd"/>
     </g>
    </g>
    <g id="line2d_52" transform="translate(0 0.2607)">
     <path d="M 52.95125 95.660937 L 72.95125 95.660937" style="fill: none; stroke: #9467bd; stroke-width: 1.5; stroke-linecap: square"/>
    </g>
    <g id="line2d_53"/>
    <g id="text_23" transform="translate(0 0.2607)">
     <text style="font-size: 10px; font-family: 'DejaVu Sans', 'Liberation Sans', sans-serif; text-anchor: start" x="80.95125" y="99.160937">Flipout</text>
    </g>
    <g id="LineCollection_12" transform="translate(0 0.2607)">
     <path d="M 62.95125 115.679062 L 62.95125 105.679062" style="fill: none; stroke: #8c564b; stroke-width: 1.5"/>
    </g>
    <g id="line2d_54" transform="translate(0 0.2607)">
     <g>
      <path d="M 3 0 L -3 -0" transform="translate(62.95125 115.679062)" style="fill: #8c564b; stroke: #8c564b"/>
     </g>
    </g>
    <g id="line2d_55" transform="translate(0 0.2607)">
     <g>
      <path d="M 3 0 L -3 -0" transform="translate(62.95125 105.679062)" style="fill: #8c564b; stroke: #8c564b"/>
     </g>
    </g>
    <g id="line2d_56" transform="translate(0 0.2607)">
     <path d="M 52.95125 110.679062 L 72.95125 110.679062" style="fill: none; stroke: #8c564b; stroke-width: 1.5; stroke-linecap: square"/>
    </g>
    <g id="line2d_57"/>
    <g id="text_24" transform="translate(0 0.2607)">
     <text style="font-size: 10px; font-family: 'DejaVu Sans', 'Liberation Sans', sans-serif; text-anchor: start" x="80.95125" y="114.179062">DUQ</text>
    </g>
   </g>
  </g>
 </g>
 <defs>
  <clipPath id="pebf8cb1cc1">
   <rect x="43.78125" y="22.32" width="357.12" height="266.112"/>
  </clipPath>
 </defs>

</g>
</svg>
</body>
</html>
